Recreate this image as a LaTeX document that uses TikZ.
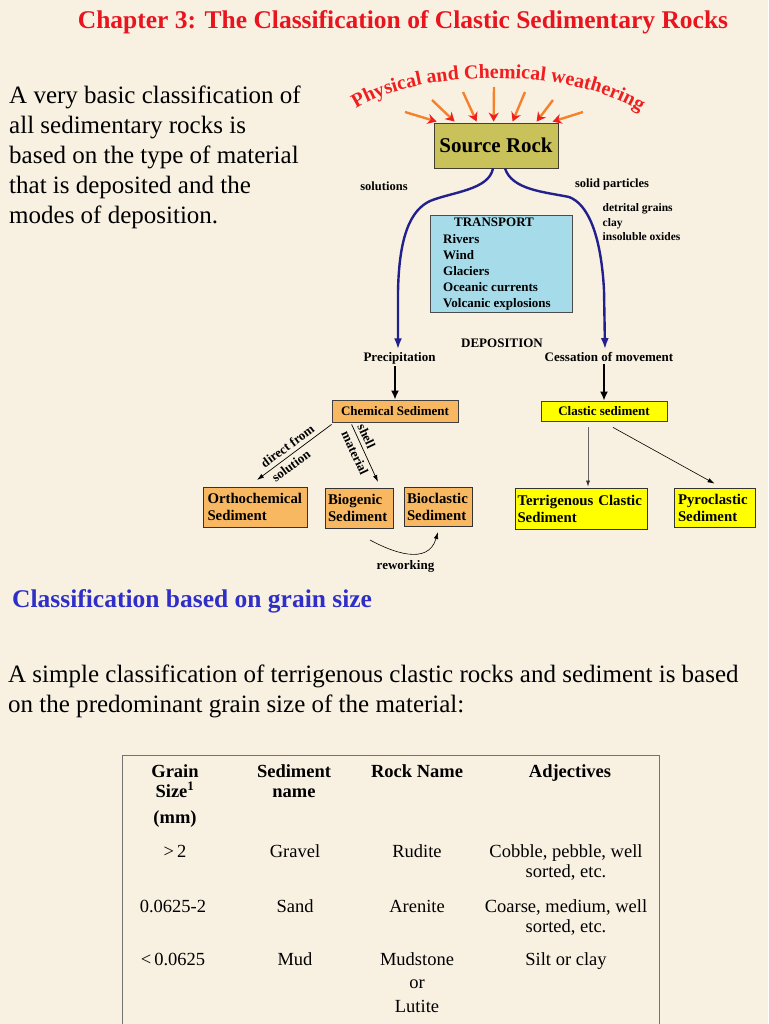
\documentclass[tikz,border=0pt]{standalone}
\usepackage{fontspec}
\setmainfont{Liberation Serif}
\usetikzlibrary{arrows.meta,decorations.text,calc}
\definecolor{bgc}{HTML}{F8F1E2}
\definecolor{titlered}{HTML}{E8141E}
\definecolor{headblue}{HTML}{2F2FC8}
\definecolor{orangebox}{HTML}{F8B862}
\definecolor{yellowbox}{HTML}{FFFF00}
\definecolor{transblue}{HTML}{A6DBEA}
\definecolor{srcolive}{HTML}{C9C25B}
\definecolor{navy}{HTML}{22208C}
\definecolor{weatherred}{HTML}{F01E1E}
\definecolor{weatherorange}{HTML}{F5822A}
\newcommand\fsz[2]{\fontsize{#1}{#2}\selectfont}
\tikzset{
  txt/.style={inner sep=0pt, anchor=base},
  bodytext/.style={txt, anchor=base west, font=\fsz{25}{30}},
  small/.style={txt, inner sep=2.5pt, font=\fsz{13}{15}\bfseries},
  tinylist/.style={inner sep=0pt, anchor=north west, align=left, font=\fsz{11.5}{14.5}\bfseries},
  flatbox/.style={draw=black!75, line width=0.8pt, inner sep=0pt, font=\fsz{13}{15}\bfseries},
  sedbox/.style={draw=black!80, line width=0.8pt, inner xsep=3pt, inner ysep=0pt, align=left, font=\fsz{14.8}{17}\bfseries},
  tabhead/.style={txt, font=\fsz{18.5}{22}\bfseries},
  tabcell/.style={txt, font=\fsz{18.5}{22}},
  thickarrow/.style={line width=2pt, -{Latex[length=9pt,width=8pt]}},
  thinarrow/.style={line width=0.7pt, -{Latex[length=7pt,width=4.5pt]}},
  bluecurve/.style={navy, line width=2.4pt, -{Latex[length=11pt,width=8pt]}},
  warrow/.style={weatherorange, line width=2.4pt, -{Stealth[length=9pt,width=10pt,weatherred]}},
  tabframe/.style={draw=black!55, line width=0.8pt}
}
\begin{document}
\begin{tikzpicture}[x=1pt,y=-1pt]
\fill[bgc] (0,0) rectangle (768,1024);
\useasboundingbox (0,0) rectangle (768,1024);

% title
\node[txt, font=\fsz{25.5}{30}\bfseries, text=titlered] (title) at (403,28.5) {Chapter 3: The Classification of Clastic Sedimentary Rocks};

% intro paragraph
\node[bodytext] (i1) at (9,104) {A very basic classification of};
\node[bodytext] (i2) at (9,134) {all sedimentary rocks is};
\node[bodytext] (i3) at (9,164) {based on the type of material};
\node[bodytext] (i4) at (9,194) {that is deposited and the};
\node[bodytext] (i5) at (9,224) {modes of deposition.};

% weathering text
\path[decorate, decoration={text along path, text align=center, text color=weatherred,
  text={|\fsz{20}{22}\bfseries|Physical and Chemical weathering}}]
  (350,113) .. controls (414,66) and (580,66) .. (646,116);

% source rock
\node[draw=black!70!olive, line width=0.8pt, fill=srcolive, minimum width=124pt, minimum height=45pt, inner sep=0pt, font=\fsz{21}{24}\bfseries] (src) at (496,145.5) {Source Rock};

% weathering arrows
\coordinate (w1) at (405,112);
\coordinate (w2) at (432,100);
\coordinate (w3) at (463,92);
\coordinate (w4) at (494,87);
\coordinate (w5) at (525,92);
\coordinate (w6) at (553,100);
\coordinate (w7) at (583,112);
\draw[warrow] (w1) -- ($(src.north west)+(3,-1)$);
\draw[warrow] (w2) -- ($(src.north west)+(21,-1)$);
\draw[warrow] (w3) -- ($(src.north west)+(43,-1)$);
\draw[warrow] (w4) -- ($(src.north west)+(60,-1)$);
\draw[warrow] (w5) -- ($(src.north west)+(79,-1)$);
\draw[warrow] (w6) -- ($(src.north west)+(103,-1)$);
\draw[warrow] (w7) -- ($(src.north west)+(119,-1)$);

% labels near source
\node[small, font=\fsz{12.5}{15}\bfseries] (solu) at (384,191) {solutions};
\node[small, font=\fsz{12.5}{15}\bfseries] (solid) at (612,188) {solid particles};
\node[tinylist] (detr) at (602.5,203.5) {detrital grains\\clay\\insoluble oxides};

% transport box
\node[draw=black!70, line width=0.8pt, fill=transblue, minimum width=142pt, minimum height=97pt, inner sep=0pt] (trans) at (501,263.5) {};
\node[txt, font=\fsz{13}{16}\bfseries] (transt) at (494,226.5) {TRANSPORT};
\node[inner sep=0pt, anchor=north west, align=left, font=\fsz{13}{16}\bfseries] (transl) at (443,234.5) {Rivers\\Wind\\Glaciers\\Oceanic currents\\Volcanic explosions};

% deposition labels
\node[small] (depo) at (502,347) {DEPOSITION};
\node[small] (prec) at (399.5,361) {Precipitation};
\node[small] (cess) at (609,361) {Cessation of movement};

% blue curves
\draw[bluecurve] ($(src.south)+(-3,0)$) .. controls (489,190) and (452,192) .. (430,201)
  .. controls (411,210) and (399,235) .. (398,292) -- (prec.north -| 398,0);
\draw[bluecurve] ($(src.south)+(9,0)$) .. controls (512,190) and (545,192) .. (569,197)
  .. controls (588,204) and (601,235) .. (604,290) -- (cess.north -| 605,0);

% sediment boxes
\node[flatbox, fill=orangebox, minimum width=126pt, minimum height=22pt] (chem) at (395,411) {Chemical Sediment};
\node[flatbox, fill=yellowbox, minimum width=126pt, minimum height=20pt] (clast) at (604,411) {Clastic sediment};
\draw[thickarrow] (prec.south -| chem.north) -- (chem.north);
\draw[thickarrow] (cess.south -| clast.north) -- (clast.north);

\node[sedbox, inner xsep=4.5pt, fill=orangebox, minimum width=104pt, minimum height=40pt, text width=95pt] (ortho) at (255,507) {Orthochemical\\Sediment};
\node[sedbox, fill=orangebox, minimum width=68pt, minimum height=40pt, text width=62pt] (biog) at (359,508) {Biogenic\\Sediment};
\node[sedbox, fill=orangebox, minimum width=68pt, minimum height=39pt, text width=62pt] (biocl) at (438,506.5) {Bioclastic\\Sediment};
\node[sedbox, inner xsep=2.5pt, fill=yellowbox, minimum width=132pt, minimum height=41pt, text width=127pt] (terr) at (581,508.5) {Terrigenous Clastic\\Sediment};
\node[sedbox, inner xsep=4pt, fill=yellowbox, minimum width=81pt, minimum height=39pt, text width=73pt] (pyro) at (714.5,507.5) {Pyroclastic\\Sediment};

% chemical sediment branches
\coordinate (dfsE) at (257,480);
\coordinate (shlE) at (378,482);
\draw[thinarrow] ($(chem.south west)+(0,2)$) -- (dfsE);
\draw[thinarrow] ($(chem.south west)+(20,2)$) -- (shlE);
\node[inner sep=0pt, rotate=36.5, font=\fsz{13}{15}\bfseries] (dfs1) at (287.5,446) {direct from};
\node[inner sep=0pt, rotate=36.5, font=\fsz{13}{15}\bfseries] (dfs2) at (291,466) {solution};
\node[inner sep=0pt, rotate=-65, font=\fsz{13}{15}\bfseries] (shl1) at (366.5,436) {shell};
\node[inner sep=0pt, rotate=-65, font=\fsz{13}{15}\bfseries] (shl2) at (355,453) {material};

% reworking
\coordinate (rwS) at (370,540);
\coordinate (rwE) at (438,532);
\draw[thinarrow, line width=0.6pt] (rwS) .. controls (392,552) and (428,566) .. (rwE);
\node[txt, font=\fsz{13}{15}\bfseries] (rew) at (405.5,569) {reworking};

% clastic branches
\draw[black!60, line width=0.6pt, -{Latex[length=6pt,width=4pt,black!80]}] ($(clast.south)+(-16,6)$) -- ($(terr.north)+(7,-1)$);
\draw[thinarrow, line width=0.6pt] ($(clast.south)+(9,6)$) -- ($(pyro.north)+(0,-4)$);

% grain size heading and paragraph
\node[txt, anchor=base west, font=\fsz{25.5}{28}\bfseries, text=headblue] (gsh) at (12,607.5) {Classification based on grain size};
\node[bodytext] (p1) at (8,682) {A simple classification of terrigenous clastic rocks and sediment is based};
\node[bodytext] (p2) at (8,712) {on the predominant grain size of the material:};

% table
\draw[tabframe] (122,1030) |- (659,755) -- (659,1030);
\node[tabhead] (hg1) at (175,777) {Grain};
\node[tabhead] (hg2) at (175,797) {Size\textsuperscript{1}};
\node[tabhead] (hg3) at (175,823) {(mm)};
\node[tabhead] (hs1) at (294,777) {Sediment};
\node[tabhead] (hs2) at (294,797) {name};
\node[tabhead] (hr) at (417,777) {Rock Name};
\node[tabhead] (ha) at (570,777) {Adjectives};

\node[tabcell] (c11) at (175,857) {>\,2};
\node[tabcell] (c12) at (295,857) {Gravel};
\node[tabcell] (c13) at (417,857) {Rudite};
\node[tabcell] (c14) at (566,857) {Cobble, pebble, well};
\node[tabcell] (c14b) at (566,877) {sorted, etc.};

\node[tabcell] (c21) at (173,912) {0.0625-2};
\node[tabcell] (c22) at (295,912) {Sand};
\node[tabcell] (c23) at (417,912) {Arenite};
\node[tabcell] (c24) at (566,912) {Coarse, medium, well};
\node[tabcell] (c24b) at (566,932) {sorted, etc.};

\node[tabcell] (c31) at (173,965) {<\,0.0625};
\node[tabcell] (c32) at (295,965) {Mud};
\node[tabcell] (c33) at (417,965) {Mudstone};
\node[tabcell] (c33b) at (417,988) {or};
\node[tabcell] (c33c) at (417,1012) {Lutite};
\node[tabcell] (c34) at (566,965) {Silt or clay};
\end{tikzpicture}
\end{document}
